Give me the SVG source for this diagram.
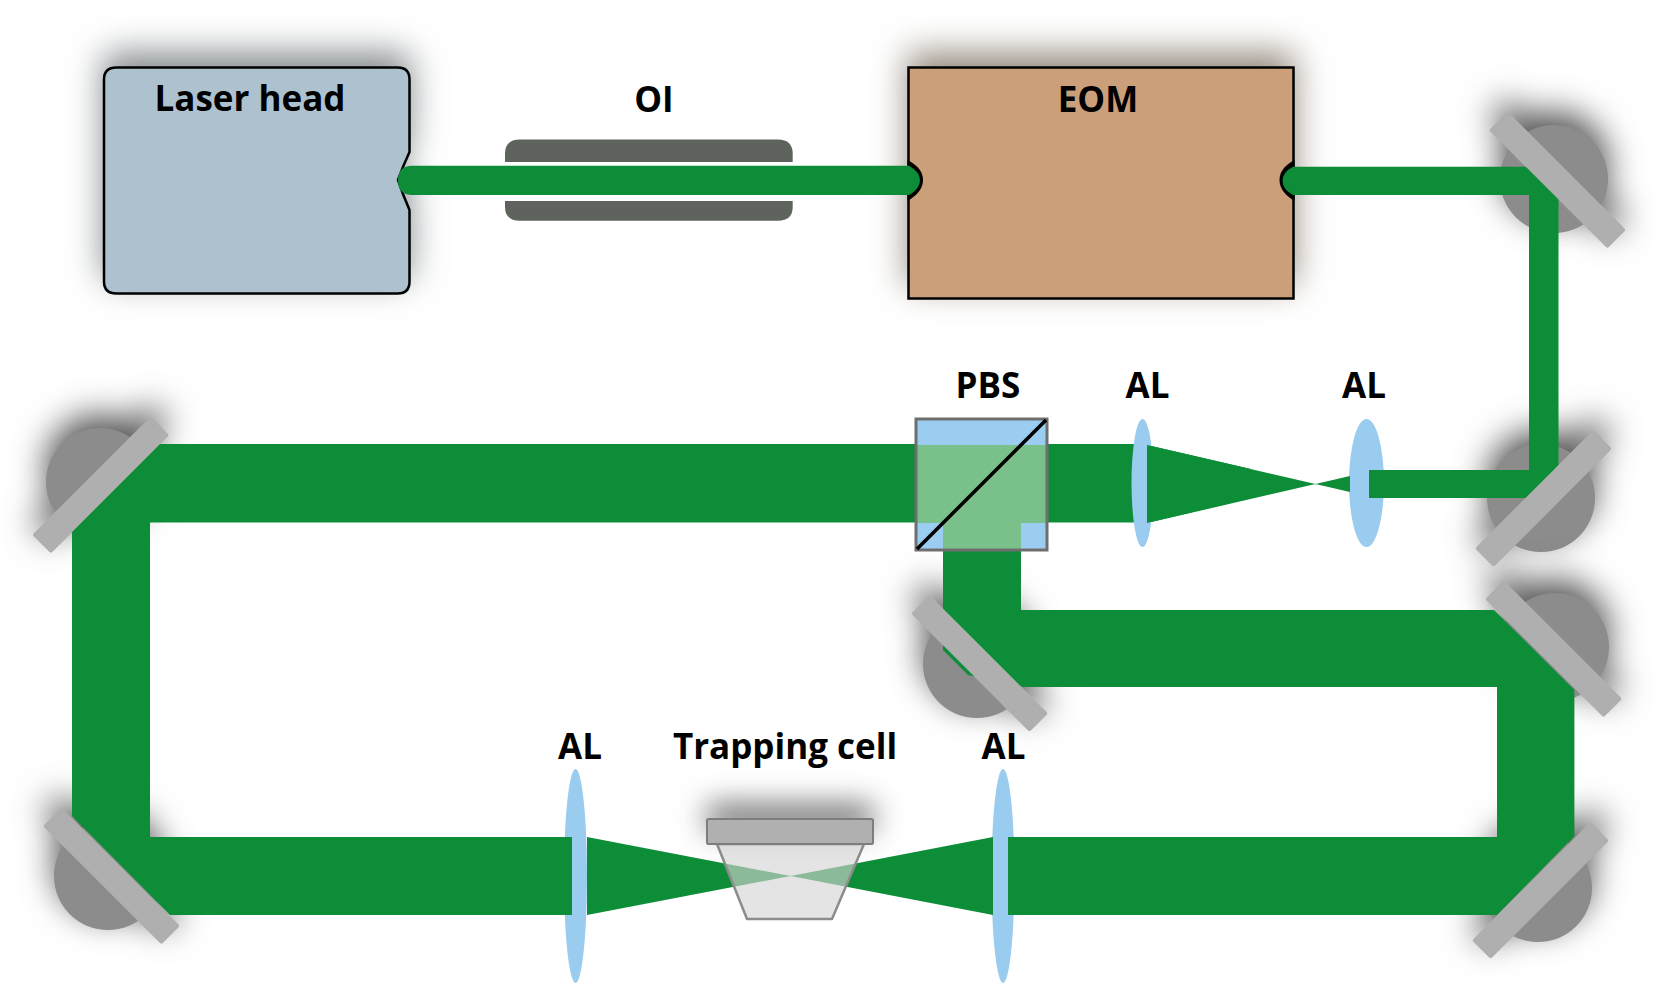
<svg xmlns="http://www.w3.org/2000/svg" width="1654" height="986" viewBox="0 0 1654 986">
<style>
text{font-family:"Open Sans","Noto Sans","Liberation Sans",sans-serif;font-weight:700;font-size:35px;fill:#000;text-anchor:middle}
.beam{fill:#0d8d38}
.disk{fill:#8c8c8c}
.bar{fill:#afafaf}
.lens{fill:#9accf0}
.box{stroke:#000;stroke-width:2.500}
</style>
<defs>
<filter id="sh" x="-70%" y="-70%" width="240%" height="240%" color-interpolation-filters="sRGB">
<feDropShadow dx="0" dy="-13" stdDeviation="17" flood-color="#222" flood-opacity="0.8"/>
</filter>
<filter id="sh-head" x="-30%" y="-50%" width="160%" height="190%" color-interpolation-filters="sRGB">
<feDropShadow dx="0" dy="-14" stdDeviation="17" flood-color="#3a4448" flood-opacity="0.62"/>
</filter>
<filter id="sh-eom" x="-30%" y="-50%" width="160%" height="190%" color-interpolation-filters="sRGB">
<feDropShadow dx="0" dy="-14" stdDeviation="17" flood-color="#54402f" flood-opacity="0.62"/>
</filter>
<filter id="sh-cell" x="-40%" y="-500%" width="180%" height="900%" color-interpolation-filters="sRGB">
<feDropShadow dx="0" dy="-14" stdDeviation="15" flood-color="#222" flood-opacity="0.7"/>
</filter>
<rect id="bar-dn" x="-83.5" y="-13" width="167" height="26" rx="2" transform="rotate(45)"/>
<rect id="bar-up" x="-83.5" y="-13" width="167" height="26" rx="2" transform="rotate(-45)"/>
</defs>
<rect width="1654" height="986" fill="#fff"/>

<g id="laser-head"><path class="box" filter="url(#sh-head)" fill="#adc2ce" d="M116.500 67.500H397.500Q409.500 67.500 409.500 79.500V152Q403 166 398 180Q403 195 409.500 210V281.500Q409.500 293.500 397.500 293.500H116.500Q104 293.500 104 281.500V79.500Q104 67.500 116.500 67.500Z"/><text x="250" y="111">Laser head</text></g>
<g id="oi"><path fill="#5f635e" d="M520 139.500H778Q792.700 139.500 792.700 154V162H505V154Q505 139.500 520 139.500Z"/><path fill="#5f635e" d="M505 201H792.700V207Q792.700 220.700 778 220.700H520Q505 220.700 505 207Z"/><text x="654" y="112">OI</text></g>
<g id="eom"><path class="box" filter="url(#sh-eom)" fill="#cb9f79" d="M908.500 67.500H1293.500V298.500H908.500Z"/>
<path fill="#000" d="M907.500 160Q923 168 923 180Q923 192 907.500 201Z"/><path fill="#000" d="M1294.500 160Q1279.500 168 1279.500 180Q1279.500 192 1294.500 201Z"/><text x="1098" y="112">EOM</text></g>

<g id="mirror-1-back" filter="url(#sh)"><circle class="disk" cx="1554" cy="179" r="54"/><use class="bar" href="#bar-dn" x="1557.500" y="180"/></g>
<g id="mirror-2-back" filter="url(#sh)"><circle class="disk" cx="1541" cy="498" r="54"/><use class="bar" href="#bar-up" x="1543.500" y="498.500"/></g>
<g id="mirror-3-back" filter="url(#sh)"><circle class="disk" cx="1555" cy="647" r="54"/><use class="bar" href="#bar-dn" x="1553.700" y="649"/></g>
<g id="mirror-4-back" filter="url(#sh)"><circle class="disk" cx="1538" cy="888" r="54"/><use class="bar" href="#bar-up" x="1540.500" y="890.500"/></g>
<g id="mirror-5-back" filter="url(#sh)"><circle class="disk" cx="977" cy="664" r="54"/><use class="bar" href="#bar-dn" x="979.600" y="663.500"/></g>
<g id="mirror-6-back" filter="url(#sh)"><circle class="disk" cx="100" cy="482" r="54"/><use class="bar" href="#bar-up" x="100.700" y="485"/></g>
<g id="mirror-7-back" filter="url(#sh)"><circle class="disk" cx="108" cy="876" r="54"/><use class="bar" href="#bar-dn" x="111.500" y="876"/></g>
<g id="cell-shadow"><rect x="707" y="819" width="166" height="25" fill="#b0b0b0" filter="url(#sh-cell)"/></g>

<g id="lens-2"><ellipse class="lens" cx="1366.500" cy="483" rx="17.500" ry="64"/></g>
<g id="lens-3"><ellipse class="lens" cx="575.500" cy="876" rx="11.500" ry="107"/></g>
<g id="lens-4"><ellipse class="lens" cx="1003" cy="876" rx="11.500" ry="107"/></g>

<g id="connectors">
<path class="beam" d="M412 165.700H909Q920 172 920 180.300Q920 189 909 195H412Q398 195 398 180.300Q398 165.700 412 165.700Z"/>
<path class="beam" d="M1293 166.700H1530L1558.500 195V465L1530 498H1369V470H1529V195H1293Q1282.500 189 1282.500 181Q1282.500 172 1293 166.700Z"/>
<path class="beam" d="M1147 445L1350 492V476L1147 523Z"/>
<path class="beam" d="M158 444H1140V522.500H150V837H572V915H170L72 816V530Z"/>
<path class="beam" d="M587 837L993 915V837L587 915Z"/>
<path class="beam" d="M943 550H1021V610H1494L1574.400 690V836L1497 915H1008V837H1497V687H1023L968 675L943 650Z"/>
</g>
<g id="lens-1"><ellipse class="lens" cx="1142.500" cy="483" rx="11" ry="64"/></g>
<g id="connector-taper"><path class="beam" d="M1147 445L1250 468.800V498.200L1147 523Z"/></g>

<g id="trapping-cell">
<path d="M717 844H864L832 919H747Z" fill="#d4d4d4" fill-opacity="0.635" stroke="#8c8c8c" stroke-width="2.500" stroke-linejoin="round"/>
<rect x="707" y="819" width="166" height="25" rx="1.500" fill="#b0b0b0" stroke="#7d7d7d" stroke-width="2"/>
<text x="785" y="759">Trapping cell</text>
</g>

<g id="pbs">
<rect x="916" y="419" width="131" height="131" fill="#9bcdf0"/>
<path d="M916 445H1047V523H1021V550H943V523H916Z" fill="#7ac08b"/>
<rect x="916" y="419" width="131" height="131" fill="none" stroke="#6e6e6e" stroke-width="3"/>
<path d="M917 549L1046 420" stroke="#000" stroke-width="3.500" fill="none"/>
<text x="988" y="398">PBS</text>
</g>

<g id="mirror-bars" class="bar">
<use href="#bar-dn" x="1557.500" y="180"/>
<use href="#bar-up" x="1543.500" y="498.500"/>
<use href="#bar-dn" x="1553.700" y="649"/>
<use href="#bar-up" x="1540.500" y="890.500"/>
<use href="#bar-dn" x="979.600" y="663.500"/>
<use href="#bar-up" x="100.700" y="485"/>
<use href="#bar-dn" x="111.500" y="876"/>
</g>

<g id="labels">
<text x="1147.500" y="398">AL</text>
<text x="1364" y="398">AL</text>
<text x="580" y="759">AL</text>
<text x="1003.500" y="759">AL</text>
</g>
</svg>
